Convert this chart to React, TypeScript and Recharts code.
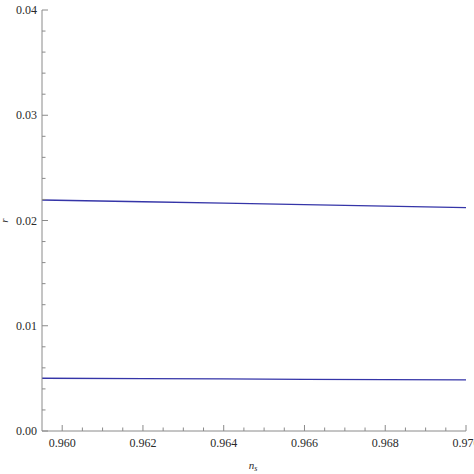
import React from 'react';
import { LineChart, Line, XAxis, YAxis } from 'recharts';

const nsValues = [0.9595, 0.962, 0.964, 0.966, 0.968, 0.97];
const rUpper = [0.02195, 0.02178, 0.02165, 0.02150, 0.02136, 0.02122];
const rLower = [0.00501, 0.00498, 0.00495, 0.00491, 0.00488, 0.00485];

const xTicks = [
  0.96, 0.9605, 0.961, 0.9615, 0.962, 0.9625, 0.963, 0.9635, 0.964, 0.9645, 0.965,
  0.9655, 0.966, 0.9665, 0.967, 0.9675, 0.968, 0.9685, 0.969, 0.9695, 0.97,
];
const yTicks = [
  0, 0.002, 0.004, 0.006, 0.008, 0.01, 0.012, 0.014, 0.016, 0.018, 0.02,
  0.022, 0.024, 0.026, 0.028, 0.03, 0.032, 0.034, 0.036, 0.038, 0.04,
];

const data = nsValues.map((ns, i) => ({ ns, upper: rUpper[i], lower: rLower[i] }));

const AXIS = '#8a8a8a';
const TEXT = '#2a2a2a';
const FONT = '"Liberation Serif", "DejaVu Serif", serif';
const LINE = '#3535a8';

const isMajorX = (v: number) => Math.round(v / 0.0005) % 4 === 0;
const isMajorY = (v: number) => Math.round(v / 0.002) % 5 === 0;

const BottomTick = (p: any) => {
  const { x, y, payload } = p;
  const major = isMajorX(payload.value);
  return (
    <g>
      <line x1={x} y1={y} x2={x} y2={y - (major ? 6 : 3.5)} stroke={AXIS} />
      {major && (
        <text x={x} y={y + 16} textAnchor="middle" fontFamily={FONT} fontSize={12} fill={TEXT}>
          {payload.value.toFixed(3)}
        </text>
      )}
    </g>
  );
};

const TopTick = (p: any) => {
  const { x, y, payload } = p;
  const major = isMajorX(payload.value);
  return <line x1={x} y1={y} x2={x} y2={y + (major ? 6 : 3.5)} stroke={AXIS} />;
};

const LeftTick = (p: any) => {
  const { x, y, payload } = p;
  const major = isMajorY(payload.value);
  return (
    <g>
      <line x1={x} y1={y} x2={x + (major ? 6 : 3.5)} y2={y} stroke={AXIS} />
      {major && (
        <text x={x - 5} y={y + 4} textAnchor="end" fontFamily={FONT} fontSize={12} fill={TEXT}>
          {payload.value.toFixed(2)}
        </text>
      )}
    </g>
  );
};

const RightTick = (p: any) => {
  const { x, y, payload } = p;
  const major = isMajorY(payload.value);
  return <line x1={x} y1={y} x2={x - (major ? 6 : 3.5)} y2={y} stroke={AXIS} />;
};

const XLabel = (p: any) => {
  const vb = p.viewBox;
  const cx = vb.x + vb.width / 2;
  return (
    <text x={cx - 1} y={469} textAnchor="middle" fontFamily={FONT} fontSize={11} fill={TEXT}>
      <tspan fontStyle="italic">n</tspan>
      <tspan fontStyle="italic" fontSize={8} dy={2}>s</tspan>
    </text>
  );
};

const YLabel = (p: any) => {
  const vb = p.viewBox;
  const cy = vb.y + vb.height / 2;
  return (
    <text x={8} y={cy} textAnchor="middle" fontFamily={FONT} fontSize={11} fontStyle="italic" fill={TEXT}
      transform={`rotate(-90, 8, ${cy})`}>
      r
    </text>
  );
};

export default function App() {
  return (
    <div style={{ width: 474, height: 474, background: '#fff' }}>
      <style>{'body{margin:0}'}</style>
      <LineChart width={474} height={474} data={data} margin={{ top: 10, right: 8, bottom: 0, left: 0 }}>
        <XAxis
          dataKey="ns"
          type="number"
          domain={[0.9595, 0.97]}
          ticks={xTicks}
          allowDataOverflow
          height={43}
          tickSize={0}
          tickMargin={0}
          tickLine={false}
          stroke={AXIS}
          tick={<BottomTick />}
          interval={0}
          label={{ content: <XLabel /> } as any}
        />
        <XAxis
          xAxisId="top"
          orientation="top"
          dataKey="ns"
          type="number"
          domain={[0.9595, 0.97]}
          ticks={xTicks}
          allowDataOverflow
          height={0}
          tickSize={0}
          tickMargin={0}
          tickLine={false}
          stroke={AXIS}
          tick={<TopTick />}
          interval={0}
        />
        <YAxis
          type="number"
          domain={[0, 0.04]}
          ticks={yTicks}
          allowDataOverflow
          width={42}
          tickSize={0}
          tickMargin={0}
          tickLine={false}
          stroke={AXIS}
          tick={<LeftTick />}
          interval={0}
          label={{ content: <YLabel /> } as any}
        />
        <YAxis
          yAxisId="right"
          orientation="right"
          type="number"
          domain={[0, 0.04]}
          ticks={yTicks}
          allowDataOverflow
          width={0}
          tickSize={0}
          tickMargin={0}
          tickLine={false}
          stroke={AXIS}
          tick={<RightTick />}
          interval={0}
        />
        <Line dataKey="upper" stroke={LINE} strokeWidth={1.3} dot={false} isAnimationActive={false} />
        <Line dataKey="lower" stroke={LINE} strokeWidth={1.3} dot={false} isAnimationActive={false} />
      </LineChart>
    </div>
  );
}
